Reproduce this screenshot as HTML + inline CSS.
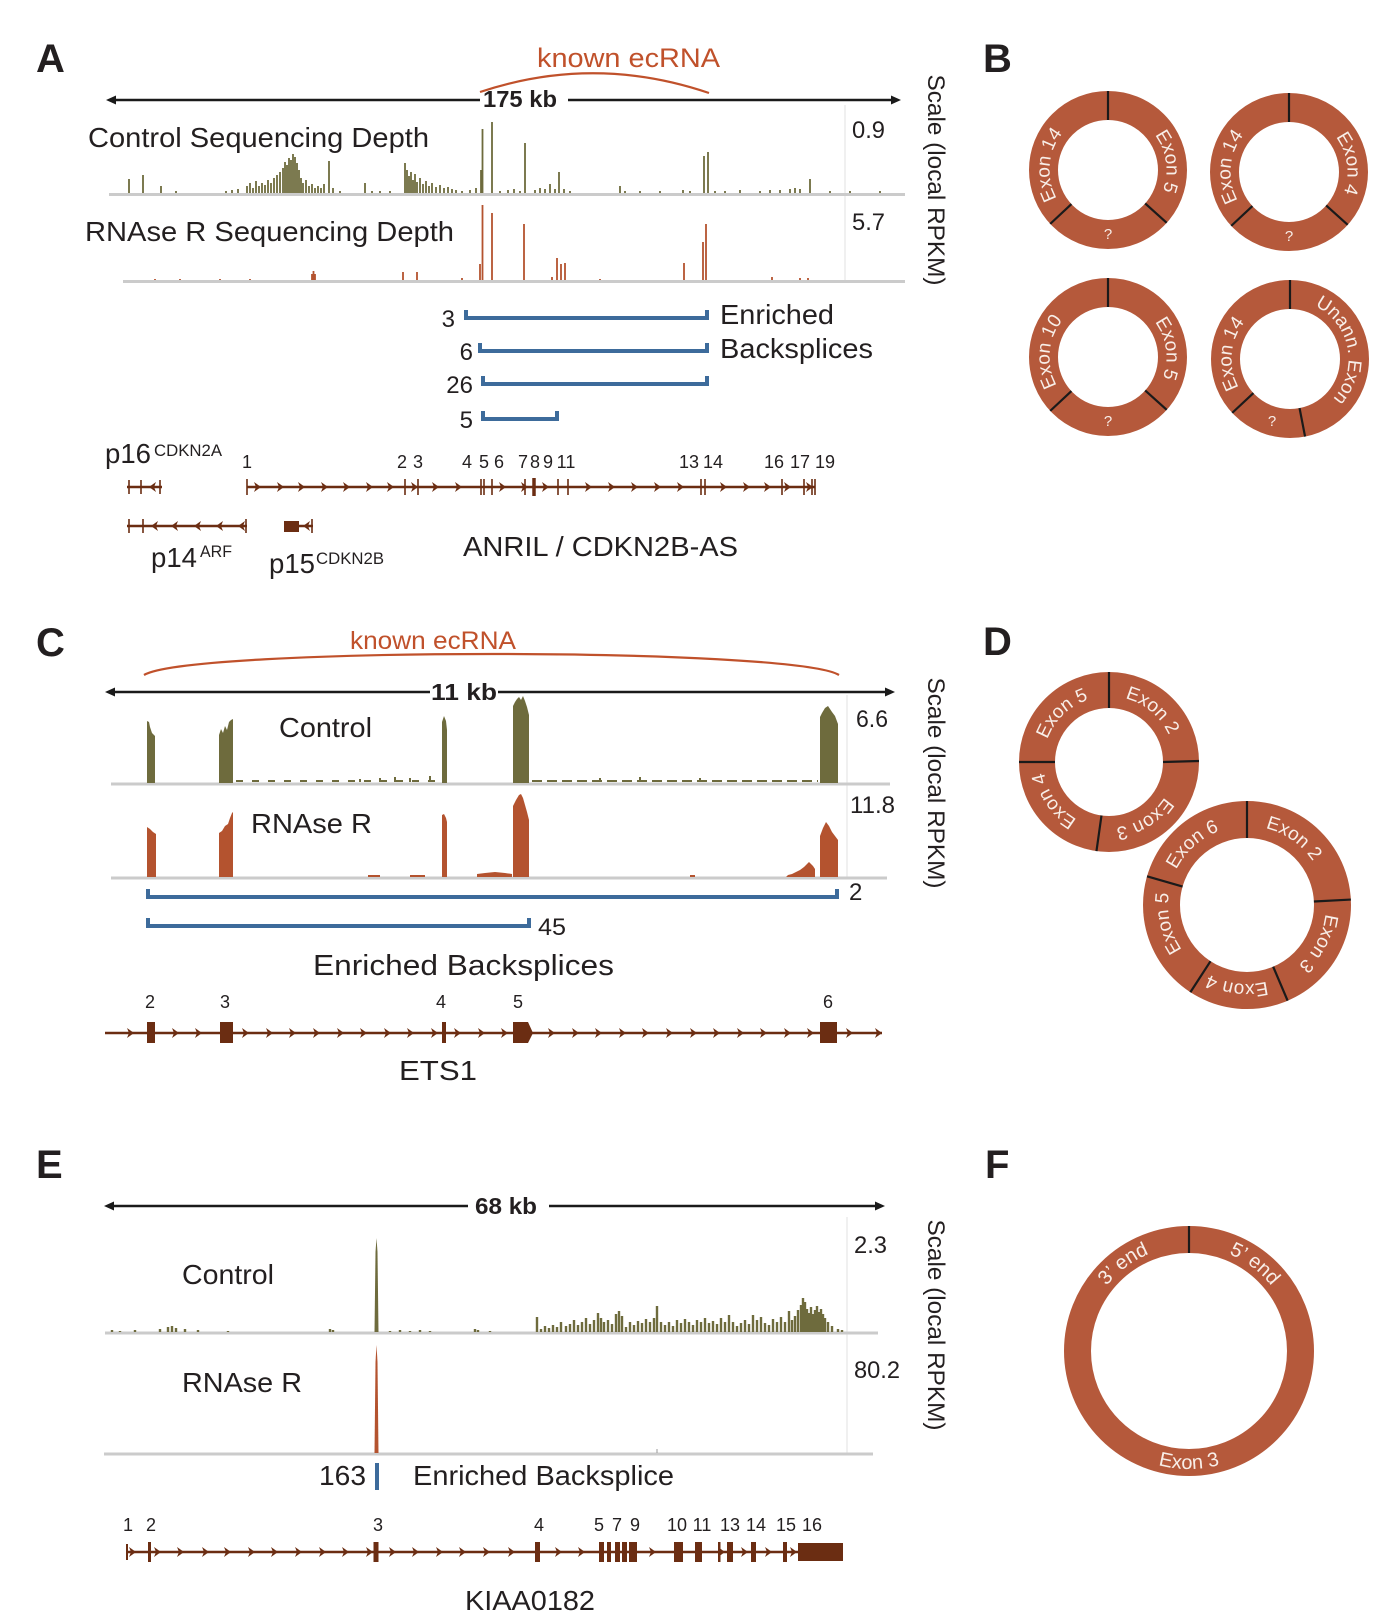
<!DOCTYPE html>
<html><head><meta charset="utf-8"><style>
html,body{margin:0;padding:0;background:#fff;}
svg{display:block;}
text{font-family:"Liberation Sans",Arial,sans-serif;fill:#231f20;}
.pl{font-weight:bold;font-size:40px;}
.rt{fill:#f8eee8;}
</style></head><body>
<svg width="1379" height="1616" viewBox="0 0 1379 1616" xmlns="http://www.w3.org/2000/svg">
<defs>
<path id="cr" d="M-5,-5 L2,0 L-5,5 L-3,0 Z"/>
<path id="cl" d="M5,-5 L-2,0 L5,5 L3,0 Z"/>
<path id="bL" d="M-33.56,47.92 A58.5,58.5 0 0 1 -24.72,-53.02"/>
<path id="bR" d="M21.91,-54.24 A58.5,58.5 0 0 1 36.02,46.10"/>
<path id="bR4" d="M15.14,-56.51 A58.5,58.5 0 0 1 35.21,46.72"/>
<path id="d1a" d="M-65.69,-1.15 A65.7,65.7 0 0 1 1.15,-65.69"/>
<path id="d1b" d="M-5.73,-65.45 A65.7,65.7 0 0 1 65.45,-5.73"/>
<path id="d1c" d="M64.02,14.78 A65.7,65.7 0 0 1 -14.78,64.02"/>
<path id="d1d" d="M-11.41,64.70 A65.7,65.7 0 0 1 -64.70,-11.41"/>
<path id="d2a" d="M-13.72,-77.80 A79,79 0 0 1 77.80,-13.72"/>
<path id="d2b" d="M75.55,-23.10 A79,79 0 0 1 23.10,75.55"/>
<path id="d2c" d="M48.64,62.25 A79,79 0 0 1 -62.25,48.64"/>
<path id="d2d" d="M-41.86,66.99 A79,79 0 0 1 -66.99,-41.86"/>
<path id="d2e" d="M-78.89,-4.13 A79,79 0 0 1 4.13,-78.89"/>
<path id="fa" d="M-102.31,-23.62 A105,105 0 0 1 5.49,-104.85"/>
<path id="fb" d="M-5.49,-104.85 A105,105 0 0 1 102.31,-23.62"/>
<path id="fc" d="M-75.85,90.39 A118,118 0 0 0 75.85,90.39"/>
</defs>
<rect width="1379" height="1616" fill="#fff"/>

<!-- ================= PANEL A ================= -->
<text class="pl" x="36" y="72">A</text>
<text x="537" y="67" font-size="27" textLength="183" lengthAdjust="spacingAndGlyphs" style="fill:#c0512b">known ecRNA</text>
<path d="M480,92 Q594,54 709,93" fill="none" stroke="#c0512b" stroke-width="2.2"/>
<g stroke="#1a1a1a" stroke-width="2.5">
<line x1="112" y1="100" x2="480" y2="100"/><line x1="568" y1="100" x2="895" y2="100"/>
</g>
<polygon points="106,100 116,95.5 116,104.5" fill="#1a1a1a"/>
<polygon points="901,100 891,95.5 891,104.5" fill="#1a1a1a"/>
<text x="483" y="107" font-size="23" font-weight="bold" textLength="74" lengthAdjust="spacingAndGlyphs">175 kb</text>

<line x1="845" y1="105" x2="845" y2="281" stroke="#e2e2e2" stroke-width="1"/>
<text x="88" y="147" font-size="28" textLength="341" lengthAdjust="spacingAndGlyphs">Control Sequencing Depth</text>
<text x="852" y="138" font-size="24" textLength="33" lengthAdjust="spacingAndGlyphs">0.9</text>
<line x1="109" y1="194.5" x2="905" y2="194.5" stroke="#cbcbcb" stroke-width="3"/>
<path stroke="#6e6b3d" stroke-width="1.8" fill="none" d="
M129 193V179 M143 193V175 M161 193V186 M176 193V191 M226 193V191 M232 193V190 M238 193V189
M247 193V186 M250 193V183 M253 193V188 M256 193V181 M259 193V186 M262 193V183 M265 193V185 M268 193V180 M271 193V183 M274 193V178 M277 193V175 M280 193V172 M283 193V168 M285 193V162 M287 193V165 M289 193V158 M291 193V160 M293 193V154 M295 193V157 M297 193V163 M299 193V170 M301 193V178 M303 193V183 M306 193V180 M309 193V186 M312 193V184 M315 193V188 M318 193V186 M321 193V188 M324 193V184 M329 193V161 M333 193V188 M340 193V191
M365 193V183 M372 193V191 M380 193V191 M390 193V191
M405 193V163 M407 193V170 M409 193V176 M411 193V172 M413 193V180 M415 193V174 M417 193V182 M420 193V178 M423 193V184 M426 193V181 M429 193V186 M432 193V183 M436 193V187 M440 193V185 M444 193V188 M448 193V187 M452 193V189 M456 193V190 M462 193V191 M470 193V190 M476 193V188
M481 193V170 M482.5 193V129 M492 193V122 M500 193V191 M508 193V190 M514 193V189 M520 193V191 M525 193V143 M535 193V190 M540 193V188 M545 193V189 M550 193V184 M555 193V189 M559 193V172 M564 193V189 M570 193V191
M620 193V186 M625 193V191 M640 193V191 M660 193V191 M683 193V190 M690 193V191 M704 193V156 M708 193V152 M715 193V191 M725 193V191 M740 193V190 M760 193V191 M770 193V190 M780 193V190 M790 193V189 M795 193V188 M800 193V189 M810 193V179 M830 193V191 M850 193V191 M880 193V191"/>

<text x="85" y="241" font-size="28" textLength="369" lengthAdjust="spacingAndGlyphs">RNAse R Sequencing Depth</text>
<text x="852" y="230" font-size="24" textLength="33" lengthAdjust="spacingAndGlyphs">5.7</text>
<line x1="123" y1="281.5" x2="905" y2="281.5" stroke="#cbcbcb" stroke-width="3"/>
<path stroke="#b4532f" stroke-width="1.8" fill="none" d="
M155 280V279 M180 280V279 M220 280V279 M250 280V279 M312 280V274 M313.5 280V271 M315 280V274 M403 280V272 M417 280V272 M462 280V278
M480 280V264 M482.5 280V205 M492 280V213 M524 280V224 M552 280V277 M557 280V258 M561 280V264 M565 280V263 M600 280V279 M684 280V263 M703 280V242 M706 280V224 M772 280V277 M800 280V278 M808 280V278"/>

<text transform="translate(936,180) rotate(90)" x="0" y="8" font-size="24" text-anchor="middle" textLength="211" lengthAdjust="spacingAndGlyphs">Scale (local RPKM)</text>

<!-- brackets A -->
<g stroke="#3d6b9b" stroke-width="4" fill="none">
<path d="M466,310 V318 H707 V310"/>
<path d="M480,343 V351 H707 V343"/>
<path d="M483,376 V384 H707 V376"/>
<path d="M483,411 V419 H557 V411"/>
</g>
<g font-size="24" text-anchor="end">
<text x="455" y="327">3</text>
<text x="473" y="360">6</text>
<text x="473" y="393">26</text>
<text x="473" y="428">5</text>
</g>
<text x="720" y="324" font-size="28" textLength="114" lengthAdjust="spacingAndGlyphs">Enriched</text>
<text x="720" y="358" font-size="28" textLength="153" lengthAdjust="spacingAndGlyphs">Backsplices</text>

<!-- gene A -->
<g font-size="18" text-anchor="middle">
<text x="247" y="468">1</text><text x="402" y="468">2</text><text x="418" y="468">3</text>
<text x="467" y="468">4</text><text x="484" y="468">5</text><text x="499" y="468">6</text>
<text x="523" y="468">7</text><text x="535" y="468">8</text><text x="548" y="468">9</text>
<text x="566" y="468">11</text><text x="689" y="468">13</text><text x="713" y="468">14</text>
<text x="774" y="468">16</text><text x="800" y="468">17</text><text x="825" y="468">19</text>
</g>
<g stroke="#6b2d12" fill="none">
<line x1="247" y1="487" x2="815" y2="487" stroke-width="2.5"/>
<path stroke-width="1.6" d="M247 479V495 M405 479V495 M418 479V495 M481 479V495 M484 479V495 M492 479V495 M525 479V495 M558 479V495 M568 479V495 M701 479V495 M705 479V495 M782 479V495 M804 479V495 M812 479V495 M815 479V495"/>
<path stroke-width="3.5" d="M534 478V496"/>
<line x1="127" y1="487" x2="162" y2="487" stroke-width="2.5"/>
<path stroke-width="1.6" d="M129 480V494 M141 480V494 M160 480V494"/>
<line x1="127" y1="526" x2="247" y2="526" stroke-width="2.5"/>
<path stroke-width="1.6" d="M129 519V533 M143 519V533 M246 519V533"/>
<line x1="284" y1="526" x2="313" y2="526" stroke-width="2.5"/>
<path stroke-width="1.6" d="M312 519V533"/>
</g>
<rect x="284" y="521" width="15" height="11" fill="#6b2d12"/>
<g fill="#6b2d12">
<use href="#cr" x="259" y="487"/><use href="#cr" x="282" y="487"/><use href="#cr" x="303" y="487"/><use href="#cr" x="326" y="487"/><use href="#cr" x="348" y="487"/><use href="#cr" x="371" y="487"/><use href="#cr" x="392" y="487"/><use href="#cr" x="416" y="487"/><use href="#cr" x="437" y="487"/><use href="#cr" x="460" y="487"/><use href="#cr" x="504" y="487"/><use href="#cr" x="526" y="487"/><use href="#cr" x="547" y="487"/><use href="#cr" x="590" y="487"/><use href="#cr" x="613" y="487"/><use href="#cr" x="636" y="487"/><use href="#cr" x="659" y="487"/><use href="#cr" x="682" y="487"/><use href="#cr" x="725" y="487"/><use href="#cr" x="748" y="487"/><use href="#cr" x="769" y="487"/><use href="#cr" x="789" y="487"/><use href="#cr" x="811" y="487"/>
<use href="#cl" x="151" y="487"/>
<use href="#cl" x="153" y="526"/><use href="#cl" x="173" y="526"/><use href="#cl" x="196" y="526"/><use href="#cl" x="218" y="526"/><use href="#cl" x="240" y="526"/>
<use href="#cl" x="305" y="526"/>
</g>
<text x="105" y="463" font-size="28" textLength="46" lengthAdjust="spacingAndGlyphs">p16</text>
<text x="154" y="456" font-size="17" textLength="68" lengthAdjust="spacingAndGlyphs">CDKN2A</text>
<text x="151" y="567" font-size="28" textLength="46" lengthAdjust="spacingAndGlyphs">p14</text>
<text x="200" y="557" font-size="17" textLength="32" lengthAdjust="spacingAndGlyphs">ARF</text>
<text x="269" y="573" font-size="28" textLength="46" lengthAdjust="spacingAndGlyphs">p15</text>
<text x="316" y="564" font-size="17" textLength="68" lengthAdjust="spacingAndGlyphs">CDKN2B</text>
<text x="463" y="556" font-size="28" textLength="275" lengthAdjust="spacingAndGlyphs">ANRIL / CDKN2B-AS</text>

<!-- ================= PANEL B ================= -->
<text class="pl" x="983" y="72">B</text>
<g transform="translate(1108,170)">
<circle r="64.5" fill="none" stroke="#b5593b" stroke-width="29"/>
<path d="M0,-50V-79 M-36.57,34.1L-57.78,53.88 M37.16,33.46L58.71,52.86" stroke="#1a1a1a" stroke-width="2.2"/>
<text class="rt" font-size="19"><textPath href="#bL" startOffset="50%" text-anchor="middle">Exon 14</textPath></text>
<text class="rt" font-size="19"><textPath href="#bR" startOffset="50%" text-anchor="middle">Exon 5</textPath></text>
<text class="rt" x="0" y="69" font-size="15" text-anchor="middle">?</text>
</g>
<g transform="translate(1289,172)">
<circle r="64.5" fill="none" stroke="#b5593b" stroke-width="29"/>
<path d="M0,-50V-79 M-36.57,34.1L-57.78,53.88 M37.16,33.46L58.71,52.86" stroke="#1a1a1a" stroke-width="2.2"/>
<text class="rt" font-size="19"><textPath href="#bL" startOffset="50%" text-anchor="middle">Exon 14</textPath></text>
<text class="rt" font-size="19"><textPath href="#bR" startOffset="50%" text-anchor="middle">Exon 4</textPath></text>
<text class="rt" x="0" y="69" font-size="15" text-anchor="middle">?</text>
</g>
<g transform="translate(1108,357)">
<circle r="64.5" fill="none" stroke="#b5593b" stroke-width="29"/>
<path d="M0,-50V-79 M-36.57,34.1L-57.78,53.88 M37.16,33.46L58.71,52.86" stroke="#1a1a1a" stroke-width="2.2"/>
<text class="rt" font-size="19"><textPath href="#bL" startOffset="50%" text-anchor="middle">Exon 10</textPath></text>
<text class="rt" font-size="19"><textPath href="#bR" startOffset="50%" text-anchor="middle">Exon 5</textPath></text>
<text class="rt" x="0" y="69" font-size="15" text-anchor="middle">?</text>
</g>
<g transform="translate(1290,359)">
<circle r="64.5" fill="none" stroke="#b5593b" stroke-width="29"/>
<path d="M0,-50V-79 M-36.57,34.1L-57.78,53.88 M9.54,49.08L15.07,77.55" stroke="#1a1a1a" stroke-width="2.2"/>
<text class="rt" font-size="19"><textPath href="#bL" startOffset="50%" text-anchor="middle">Exon 14</textPath></text>
<text class="rt" font-size="19"><textPath href="#bR4" startOffset="50%" text-anchor="middle">Unann. Exon</textPath></text>
<text class="rt" x="-18" y="67" font-size="15" text-anchor="middle">?</text>
</g>

<!-- ================= PANEL C ================= -->
<text class="pl" x="36" y="656">C</text>
<text x="350" y="649" font-size="25" textLength="166" lengthAdjust="spacingAndGlyphs" style="fill:#c0512b">known ecRNA</text>
<path d="M144,675 C190,647 793,647 839,675" fill="none" stroke="#c0512b" stroke-width="2.2"/>
<g stroke="#1a1a1a" stroke-width="2.5">
<line x1="111" y1="692" x2="430" y2="692"/><line x1="498" y1="692" x2="889" y2="692"/>
</g>
<polygon points="105,692 115,687.5 115,696.5" fill="#1a1a1a"/>
<polygon points="895,692 885,687.5 885,696.5" fill="#1a1a1a"/>
<text x="431" y="700" font-size="23" font-weight="bold" textLength="66" lengthAdjust="spacingAndGlyphs">11 kb</text>
<line x1="847" y1="695" x2="847" y2="877" stroke="#e2e2e2" stroke-width="1"/>

<text x="279" y="737" font-size="28" textLength="93" lengthAdjust="spacingAndGlyphs">Control</text>
<text x="856" y="727" font-size="24" textLength="32" lengthAdjust="spacingAndGlyphs">6.6</text>
<line x1="111" y1="784" x2="890" y2="784" stroke="#cbcbcb" stroke-width="3"/>
<g fill="#6e6b3d">
<polygon points="147,783 147,721 149,722 150,727 152,733 154,735 155,736 155,783"/>
<polygon points="219,783 219,735 221,729 223,733 225,726 227,730 229,722 231,720 233,719 233,783"/>
<polygon points="442,783 442,722 444,716 446,721 447,730 447,783"/>
<polygon points="513,783 513,706 515,702 517,699 519,697 521,700 523,696 525,701 527,707 529,715 529,783"/>
<polygon points="820,783 820,717 822,713 825,708 828,706 830,709 832,712 835,716 838,724 838,783"/>
</g>
<g stroke="#6e6b3d" stroke-width="2" fill="none">
<line x1="236" y1="781" x2="440" y2="781" stroke-dasharray="7 9"/>
<line x1="532" y1="781" x2="818" y2="781" stroke-dasharray="10 5"/>
<path d="M360 782V779 M380 782V778 M395 782V777 M410 782V778 M430 782V776 M600 782V778 M640 782V777 M700 782V778"/>
</g>

<text x="251" y="833" font-size="28" textLength="121" lengthAdjust="spacingAndGlyphs">RNAse R</text>
<text x="850" y="813" font-size="24" textLength="45" lengthAdjust="spacingAndGlyphs">11.8</text>
<line x1="111" y1="878" x2="887" y2="878" stroke="#cbcbcb" stroke-width="3"/>
<g fill="#b4532f">
<polygon points="147,877 147,827 150,829 153,832 156,834 156,877"/>
<polygon points="219,877 219,833 222,831 225,826 228,824 230,818 232,813 233,812 233,877"/>
<polygon points="442,877 442,815 444,814 446,818 447,822 447,877"/>
<polygon points="477,877 477,874 485,873 495,872 505,873 512,874 512,877"/>
<polygon points="513,877 513,806 516,800 519,795 521,794 523,798 525,805 527,812 529,820 529,877"/>
<polygon points="786,877 788,875 792,874 796,872 800,870 804,867 807,864 809,862 811,864 813,866 815,869 815,877"/>
<polygon points="820,877 820,836 823,828 826,822 829,826 832,832 835,836 838,840 838,877"/>
<polygon points="368,877 368,875 380,875 380,877"/>
<polygon points="410,877 410,875 425,875 425,877"/>
<polygon points="690,877 690,875 695,875 695,877"/>
</g>
<text transform="translate(936,783) rotate(90)" x="0" y="8" font-size="24" text-anchor="middle" textLength="211" lengthAdjust="spacingAndGlyphs">Scale (local RPKM)</text>

<g stroke="#3d6b9b" stroke-width="4" fill="none">
<path d="M148,889 V897 H837 V889"/>
<path d="M148,918 V926 H529 V918"/>
</g>
<text x="849" y="900" font-size="24">2</text>
<text x="538" y="935" font-size="24" textLength="28" lengthAdjust="spacingAndGlyphs">45</text>
<text x="313" y="975" font-size="29" textLength="301" lengthAdjust="spacingAndGlyphs">Enriched Backsplices</text>

<g font-size="18" text-anchor="middle">
<text x="150" y="1008">2</text><text x="225" y="1008">3</text><text x="441" y="1008">4</text><text x="518" y="1008">5</text><text x="828" y="1008">6</text>
</g>
<line x1="105" y1="1033" x2="882" y2="1033" stroke="#6b2d12" stroke-width="2.5"/>
<g fill="#6b2d12">
<rect x="147" y="1022" width="8" height="21"/>
<rect x="220" y="1022" width="13" height="21"/>
<rect x="442" y="1022" width="4" height="21"/>
<polygon points="513,1022 528,1022 533,1033 528,1043 513,1043"/>
<rect x="820" y="1022" width="17" height="21"/>
<use href="#cr" x="132" y="1033"/><use href="#cr" x="177" y="1033"/><use href="#cr" x="200" y="1033"/><use href="#cr" x="247" y="1033"/><use href="#cr" x="271" y="1033"/><use href="#cr" x="294" y="1033"/><use href="#cr" x="318" y="1033"/><use href="#cr" x="342" y="1033"/><use href="#cr" x="365" y="1033"/><use href="#cr" x="389" y="1033"/><use href="#cr" x="412" y="1033"/><use href="#cr" x="436" y="1033"/><use href="#cr" x="459" y="1033"/><use href="#cr" x="483" y="1033"/><use href="#cr" x="506" y="1033"/><use href="#cr" x="553" y="1033"/><use href="#cr" x="577" y="1033"/><use href="#cr" x="600" y="1033"/><use href="#cr" x="624" y="1033"/><use href="#cr" x="647" y="1033"/><use href="#cr" x="671" y="1033"/><use href="#cr" x="695" y="1033"/><use href="#cr" x="718" y="1033"/><use href="#cr" x="742" y="1033"/><use href="#cr" x="765" y="1033"/><use href="#cr" x="789" y="1033"/><use href="#cr" x="812" y="1033"/><use href="#cr" x="851" y="1033"/><use href="#cr" x="880" y="1033"/>
</g>
<text x="399" y="1080" font-size="28" textLength="78" lengthAdjust="spacingAndGlyphs">ETS1</text>

<!-- ================= PANEL D ================= -->
<text class="pl" x="983" y="655">D</text>
<g transform="translate(1109,762)">
<circle r="72" fill="none" stroke="#b5593b" stroke-width="36"/>
<path d="M0,-54V-90 M54,0L90,-1 M-7.52,53.48L-12.53,89.13 M-54,0H-90" stroke="#1a1a1a" stroke-width="2.2"/>
<text class="rt" font-size="19"><textPath href="#d1a" startOffset="50%" text-anchor="middle">Exon 5</textPath></text>
<text class="rt" font-size="19"><textPath href="#d1b" startOffset="50%" text-anchor="middle">Exon 2</textPath></text>
<text class="rt" font-size="19"><textPath href="#d1c" startOffset="50%" text-anchor="middle">Exon 3</textPath></text>
<text class="rt" font-size="19"><textPath href="#d1d" startOffset="50%" text-anchor="middle">Exon 4</textPath></text>
</g>
<g transform="translate(1247,905)">
<circle r="85.5" fill="none" stroke="#b5593b" stroke-width="37"/>
<path d="M0,-67V-104 M66.91,-3.5L103.86,-5.44 M26.18,61.67L40.63,95.73 M-36.49,56.19L-56.64,87.22 M-64.41,-18.47L-99.97,-28.66" stroke="#1a1a1a" stroke-width="2.2"/>
<text class="rt" font-size="19"><textPath href="#d2a" startOffset="50%" text-anchor="middle">Exon 2</textPath></text>
<text class="rt" font-size="19"><textPath href="#d2b" startOffset="50%" text-anchor="middle">Exon 3</textPath></text>
<text class="rt" font-size="19"><textPath href="#d2c" startOffset="50%" text-anchor="middle">Exon 4</textPath></text>
<text class="rt" font-size="19"><textPath href="#d2d" startOffset="50%" text-anchor="middle">Exon 5</textPath></text>
<text class="rt" font-size="19"><textPath href="#d2e" startOffset="50%" text-anchor="middle">Exon 6</textPath></text>
</g>

<!-- ================= PANEL E ================= -->
<text class="pl" x="36" y="1178">E</text>
<g stroke="#1a1a1a" stroke-width="2.5">
<line x1="110" y1="1206" x2="468" y2="1206"/><line x1="549" y1="1206" x2="879" y2="1206"/>
</g>
<polygon points="104,1206 114,1201.5 114,1210.5" fill="#1a1a1a"/>
<polygon points="885,1206 875,1201.5 875,1210.5" fill="#1a1a1a"/>
<text x="475" y="1214" font-size="23" font-weight="bold" textLength="62" lengthAdjust="spacingAndGlyphs">68 kb</text>
<line x1="847" y1="1217" x2="847" y2="1453" stroke="#e2e2e2" stroke-width="1"/>

<text x="182" y="1284" font-size="28" textLength="92" lengthAdjust="spacingAndGlyphs">Control</text>
<text x="854" y="1253" font-size="24" textLength="33" lengthAdjust="spacingAndGlyphs">2.3</text>
<line x1="105" y1="1333" x2="878" y2="1333" stroke="#cbcbcb" stroke-width="3"/>
<polygon points="374.5,1332 375.5,1252 376.5,1238 377.5,1252 378.5,1332" fill="#6e6b3d"/>
<path stroke="#6e6b3d" stroke-width="2.4" fill="none" d="
M112 1332V1330 M120 1332V1331 M135 1332V1330 M160 1332V1329 M168 1332V1327 M172 1332V1326 M176 1332V1328 M185 1332V1329 M198 1332V1330 M228 1332V1331 M330 1332V1329 M333 1332V1330 M390 1332V1331 M400 1332V1330 M410 1332V1331 M420 1332V1330 M430 1332V1331 M475 1332V1329 M478 1332V1330 M490 1332V1331
M537 1332V1317 M541 1332V1329 M545 1332V1326 M549 1332V1328 M553 1332V1325 M557 1332V1327 M561 1332V1322 M566 1332V1326 M570 1332V1324 M574 1332V1320 M578 1332V1325 M582 1332V1322 M586 1332V1318 M590 1332V1324 M594 1332V1320 M598 1332V1313 M601 1332V1318 M604 1332V1322 M608 1332V1320 M612 1332V1324 M616 1332V1314 M619 1332V1311 M622 1332V1316 M626 1332V1327 M630 1332V1322 M634 1332V1325 M638 1332V1321 M642 1332V1323 M646 1332V1319 M650 1332V1322 M654 1332V1318 M657 1332V1306 M661 1332V1322 M665 1332V1325 M669 1332V1322 M673 1332V1326 M677 1332V1320 M681 1332V1323 M685 1332V1319 M689 1332V1322 M693 1332V1325 M697 1332V1320 M701 1332V1322 M705 1332V1318 M709 1332V1323 M713 1332V1321 M717 1332V1324 M721 1332V1318 M725 1332V1322 M729 1332V1315 M733 1332V1322 M737 1332V1326 M741 1332V1323 M745 1332V1320 M749 1332V1324 M753 1332V1315 M757 1332V1320 M761 1332V1317 M765 1332V1323 M769 1332V1325 M773 1332V1319 M777 1332V1322 M781 1332V1317 M785 1332V1322 M789 1332V1311 M792 1332V1320 M795 1332V1316 M798 1332V1310 M801 1332V1305 M803 1332V1298 M805 1332V1302 M807 1332V1309 M809 1332V1313 M811 1332V1307 M813 1332V1314 M815 1332V1310 M817 1332V1306 M819 1332V1312 M821 1332V1309 M823 1332V1314 M825 1332V1318 M828 1332V1322 M832 1332V1326 M838 1332V1329 M842 1332V1330"/>

<text x="182" y="1392" font-size="28" textLength="120" lengthAdjust="spacingAndGlyphs">RNAse R</text>
<text x="854" y="1378" font-size="24" textLength="46" lengthAdjust="spacingAndGlyphs">80.2</text>
<line x1="104" y1="1454" x2="873" y2="1454" stroke="#cbcbcb" stroke-width="3"/>
<polygon points="374.5,1453 375.5,1362 376.5,1345 377.5,1362 378.5,1453" fill="#b4532f"/>
<line x1="657" y1="1453" x2="657" y2="1449" stroke="#999" stroke-width="1"/>
<text transform="translate(936,1325) rotate(90)" x="0" y="8" font-size="24" text-anchor="middle" textLength="211" lengthAdjust="spacingAndGlyphs">Scale (local RPKM)</text>

<line x1="377" y1="1463" x2="377" y2="1490" stroke="#3d6b9b" stroke-width="4"/>
<text x="319" y="1485" font-size="28" textLength="47" lengthAdjust="spacingAndGlyphs">163</text>
<text x="413" y="1485" font-size="28" textLength="261" lengthAdjust="spacingAndGlyphs">Enriched Backsplice</text>

<g font-size="18" text-anchor="middle">
<text x="128" y="1531">1</text><text x="151" y="1531">2</text><text x="378" y="1531">3</text><text x="539" y="1531">4</text>
<text x="599" y="1531">5</text><text x="617" y="1531">7</text><text x="635" y="1531">9</text>
<text x="677" y="1531">10</text><text x="702" y="1531">11</text><text x="730" y="1531">13</text><text x="756" y="1531">14</text><text x="786" y="1531">15</text><text x="812" y="1531">16</text>
</g>
<line x1="126" y1="1552" x2="843" y2="1552" stroke="#6b2d12" stroke-width="2.5"/>
<g fill="#6b2d12">
<rect x="126" y="1544" width="2" height="16"/>
<rect x="148" y="1542" width="3" height="20"/>
<rect x="373.5" y="1542" width="5" height="20"/>
<rect x="535" y="1542" width="5" height="20"/>
<rect x="599" y="1542" width="5" height="20"/>
<rect x="607" y="1542" width="4" height="20"/>
<rect x="615" y="1542" width="5" height="20"/>
<rect x="622" y="1542" width="5" height="20"/>
<rect x="629" y="1542" width="8" height="20"/>
<rect x="674" y="1542" width="9" height="20"/>
<rect x="695" y="1542" width="7" height="20"/>
<rect x="718" y="1542" width="2.5" height="20"/>
<rect x="727" y="1542" width="6" height="20"/>
<rect x="751" y="1542" width="5" height="20"/>
<rect x="783" y="1542" width="4" height="20"/>
<rect x="798" y="1543" width="45" height="18"/>
<use href="#cr" x="134" y="1552"/><use href="#cr" x="159" y="1552"/><use href="#cr" x="182" y="1552"/><use href="#cr" x="207" y="1552"/><use href="#cr" x="229" y="1552"/><use href="#cr" x="253" y="1552"/><use href="#cr" x="276" y="1552"/><use href="#cr" x="300" y="1552"/><use href="#cr" x="324" y="1552"/><use href="#cr" x="347" y="1552"/><use href="#cr" x="371" y="1552"/><use href="#cr" x="394" y="1552"/><use href="#cr" x="417" y="1552"/><use href="#cr" x="441" y="1552"/><use href="#cr" x="464" y="1552"/><use href="#cr" x="488" y="1552"/><use href="#cr" x="513" y="1552"/><use href="#cr" x="560" y="1552"/><use href="#cr" x="583" y="1552"/><use href="#cr" x="654" y="1552"/><use href="#cr" x="723" y="1552"/><use href="#cr" x="746" y="1552"/><use href="#cr" x="770" y="1552"/><use href="#cr" x="795" y="1552"/>
</g>
<text x="465" y="1610" font-size="28" textLength="130" lengthAdjust="spacingAndGlyphs">KIAA0182</text>

<!-- ================= PANEL F ================= -->
<text class="pl" x="985" y="1178">F</text>
<g transform="translate(1189,1351)">
<circle r="111.5" fill="none" stroke="#b5593b" stroke-width="27"/>
<path d="M0,-98V-125" stroke="#1a1a1a" stroke-width="2.2"/>
<text class="rt" font-size="20"><textPath href="#fa" startOffset="50%" text-anchor="middle">3’ end</textPath></text>
<text class="rt" font-size="20"><textPath href="#fb" startOffset="50%" text-anchor="middle">5’ end</textPath></text>
<text class="rt" font-size="20"><textPath href="#fc" startOffset="50%" text-anchor="middle">Exon 3</textPath></text>
</g>
</svg>
</body></html>
